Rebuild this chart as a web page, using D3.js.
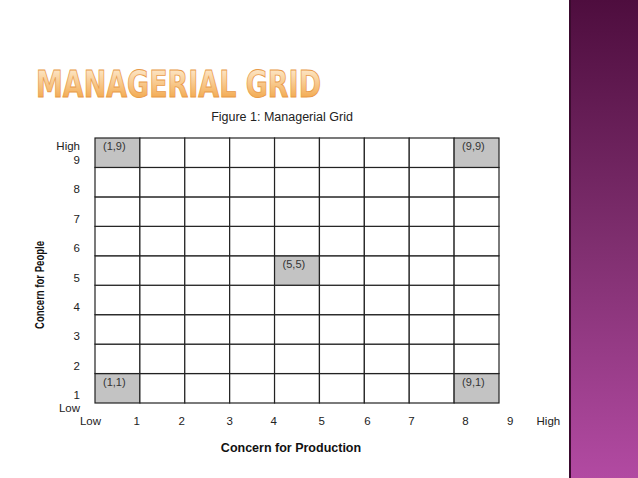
<!DOCTYPE html>
<html><head><meta charset="utf-8">
<script src="https://cdn.jsdelivr.net/npm/d3@7"></script>
<style>body{margin:0;background:#fff}svg{display:block;font-family:Arial,"Liberation Sans",sans-serif}</style>
</head><body>
<svg id="c" width="638" height="478"></svg>
<script>
// grid size and highlighted styles
const nCols = 9, nRows = 9;
const styles = [[1, 9], [9, 9], [5, 5], [1, 1], [9, 1]];
const xLabels = ["Low", "1", "2", "3", "4", "5", "6", "7", "8", "9", "High"];
const xLabelPos = [-0.1, 0.93, 1.93, 3, 3.98, 5.05, 6.07, 7.05, 8.25, 9.25, 10.1];
const yLabels = ["1", "2", "3", "4", "5", "6", "7", "8", "9"];

const svg = d3.select("#c");
const defs = svg.append("defs");

// purple band on the right
const pg = defs.append("linearGradient").attr("id", "pg").attr("x1", 0).attr("y1", 0).attr("x2", 0).attr("y2", 1);
pg.append("stop").attr("offset", "0").attr("stop-color", "#4e0d3e");
pg.append("stop").attr("offset", "0.5").attr("stop-color", "#7e2e6e");
pg.append("stop").attr("offset", "1").attr("stop-color", "#b24aa2");
svg.append("rect").attr("x", 569).attr("y", 0).attr("width", 69).attr("height", 478).attr("fill", "url(#pg)");
svg.append("rect").attr("x", 569).attr("y", 0).attr("width", 2).attr("height", 478).attr("fill", "#3a0a2e");

// slide title
const tg = defs.append("linearGradient").attr("id", "tg").attr("x1", 0).attr("y1", 0).attr("x2", 0).attr("y2", 1);
tg.append("stop").attr("offset", "0").attr("stop-color", "#fff3e0");
tg.append("stop").attr("offset", "1").attr("stop-color", "#f09a30");
svg.append("text").attr("x", 36).attr("y", 97).attr("textLength", 285).attr("lengthAdjust", "spacingAndGlyphs")
  .attr("font-family", "DejaVu Sans").attr("font-weight", "bold").attr("font-size", 37).attr("fill", "url(#tg)")
  .attr("stroke", "#e89a48").attr("stroke-width", 0.9).text("MANAGERIAL GRID");

svg.append("text").attr("x", 282).attr("y", 121).attr("text-anchor", "middle").attr("font-size", 12.5).attr("fill", "#222")
  .text("Figure 1: Managerial Grid");

const x = d3.scaleLinear().domain([0, nCols]).range([95, 499]);
const y = d3.scaleLinear().domain([0, nRows]).range([403, 138]);

// cells
const cells = d3.cross(d3.range(1, nCols + 1), d3.range(1, nRows + 1));
const isHi = (c, r) => styles.some(s => s[0] === c && s[1] === r);
svg.append("g").selectAll("rect").data(cells).join("rect")
  .attr("x", d => x(d[0] - 1)).attr("y", d => y(d[1]))
  .attr("width", d => x(d[0]) - x(d[0] - 1)).attr("height", d => y(d[1] - 1) - y(d[1]))
  .attr("fill", d => isHi(d[0], d[1]) ? "#c3c3c3" : "#fff")
  .attr("stroke", "#222").attr("stroke-width", 1.2);

svg.append("g").selectAll("text").data(styles).join("text")
  .attr("x", d => x(d[0] - 1) + 8).attr("y", d => y(d[1]) + 12)
  .attr("font-size", 11).attr("fill", "#333").text(d => `(${d[0]},${d[1]})`);

// y labels
svg.append("g").selectAll("text").data(yLabels).join("text")
  .attr("x", 80).attr("y", (d, i) => y(i + 0.5) + 11).attr("text-anchor", "end")
  .attr("font-size", 11.5).attr("fill", "#222").text(d => d);
svg.append("text").attr("x", 80).attr("y", y(nRows) + 12).attr("text-anchor", "end").attr("font-size", 11.5).attr("fill", "#222").text("High");
svg.append("text").attr("x", 80).attr("y", y(0) + 9).attr("text-anchor", "end").attr("font-size", 11.5).attr("fill", "#222").text("Low");

// x labels
svg.append("g").selectAll("text").data(xLabels).join("text")
  .attr("x", (d, i) => x(xLabelPos[i])).attr("y", 425).attr("text-anchor", "middle")
  .attr("font-size", 11.5).attr("fill", "#222").text(d => d);

svg.append("text").attr("x", 291).attr("y", 452).attr("text-anchor", "middle").attr("font-weight", "bold")
  .attr("font-size", 12.5).attr("fill", "#111").text("Concern for Production");
svg.append("text").attr("transform", "translate(44,285) rotate(-90)").attr("text-anchor", "middle")
  .attr("textLength", 88).attr("lengthAdjust", "spacingAndGlyphs").attr("font-weight", "bold")
  .attr("font-size", 13).attr("fill", "#111").text("Concern for People");
</script>
</body></html>
